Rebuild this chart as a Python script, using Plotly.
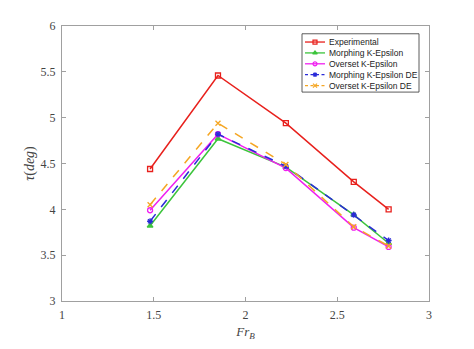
import plotly.graph_objects as go

fr = [1.48, 1.85, 2.22, 2.59, 2.78]
experimental = [4.44, 5.46, 4.94, 4.30, 4.00]
morphing_ke = [3.82, 4.77, 4.46, 3.94, 3.63]
overset_ke = [3.99, 4.82, 4.45, 3.80, 3.59]
morphing_ke_de = [3.87, 4.82, 4.47, 3.94, 3.66]
overset_ke_de = [4.05, 4.94, 4.49, 3.81, 3.60]

names = ["Experimental", "Morphing K-Epsilon", "Overset K-Epsilon",
         "Morphing K-Epsilon DE", "Overset K-Epsilon DE"]
series = [experimental, morphing_ke, overset_ke, morphing_ke_de, overset_ke_de]
colors = ["#e8201c", "#3cc43c", "#f020f0", "#2a2ad8", "#f5a623"]
dashes = ["solid", "solid", "solid", "dash", "dash"]
symbols = ["square-open", "triangle-up", "circle-open", "asterisk-open", "x-thin-open"]

# plot-area pixel frame (used for the hand-made legend overlay)
L, R, T, B = 62, 429, 26, 309
W, H = 474, 349

fig = go.Figure()
for n, s, c, d, m in zip(names, series, colors, dashes, symbols):
    fig.add_trace(go.Scatter(
        x=fr, y=s, name=n, mode="lines+markers",
        line=dict(color=c, width=1.5, dash=d),
        marker=dict(symbol=m, size=5, color=c, line=dict(color=c, width=1.3)),
        showlegend=False,
    ))

# compact MATLAB-style legend drawn on an overlay pixel axis
leg_x0, leg_x1, leg_y0, leg_y1 = 302, 419, 34, 94
row_y0, row_dy = 42.5, 11.2
for i, (n, c, d, m) in enumerate(zip(names, colors, dashes, symbols)):
    yy = row_y0 + i * row_dy
    fig.add_trace(go.Scatter(
        x=[305, 315, 325], y=[yy, yy, yy], xaxis="x2", yaxis="y2",
        mode="lines", line=dict(color=c, width=1.3, dash="3px,2.5px" if d == "dash" else "solid"),
        showlegend=False, hoverinfo="skip",
    ))
    fig.add_trace(go.Scatter(
        x=[315], y=[yy], xaxis="x2", yaxis="y2", mode="markers",
        marker=dict(symbol=m, size=4, color=c, line=dict(color=c, width=1.2)),
        showlegend=False, hoverinfo="skip",
    ))
    fig.add_annotation(x=327, y=yy, xref="x2", yref="y2", text=n, showarrow=False,
                       xanchor="left", yanchor="middle",
                       font=dict(family="Liberation Sans", size=8.5, color="#222222"))
fig.add_shape(type="rect", xref="x2", yref="y2", x0=leg_x0, x1=leg_x1, y0=leg_y0, y1=leg_y1,
              line=dict(color="#333333", width=0.8), fillcolor="rgba(0,0,0,0)", layer="above")

axis_common = dict(
    showline=True, linecolor="#a0a0a0", linewidth=1, mirror="ticks",
    ticks="inside", ticklen=4, tickcolor="#a0a0a0",
    showgrid=False, zeroline=False,
    tickfont=dict(family="Liberation Serif", size=12, color="#444444"),
)

fig.update_layout(
    width=W, height=H,
    margin=dict(l=L, r=W - R, t=T, b=H - B),
    plot_bgcolor="white", paper_bgcolor="white",
    xaxis=dict(range=[1, 3], tickvals=[1, 1.5, 2, 2.5, 3],
               ticktext=["1", "1.5", "2", "2.5", "3"], ticklabelstandoff=3,
               title=dict(text="<i>Fr</i><sub><i>B</i></sub>", standoff=5,
                          font=dict(family="Liberation Serif", size=13, color="#444444")),
               **axis_common),
    yaxis=dict(range=[3, 6], tickvals=[3, 3.5, 4, 4.5, 5, 5.5, 6],
               ticktext=["3", "3.5", "4", "4.5", "5", "5.5", "6"], ticklabelstandoff=3,
               title=dict(text="<i>τ</i>(<i>deg</i>)", standoff=2,
                          font=dict(family="Liberation Serif", size=14, color="#444444")),
               **axis_common),
    xaxis2=dict(range=[L, R], overlaying="x", visible=False, fixedrange=True),
    yaxis2=dict(range=[B, T], overlaying="y", visible=False, fixedrange=True),
    showlegend=False,
)

fig.write_html("out.html")
